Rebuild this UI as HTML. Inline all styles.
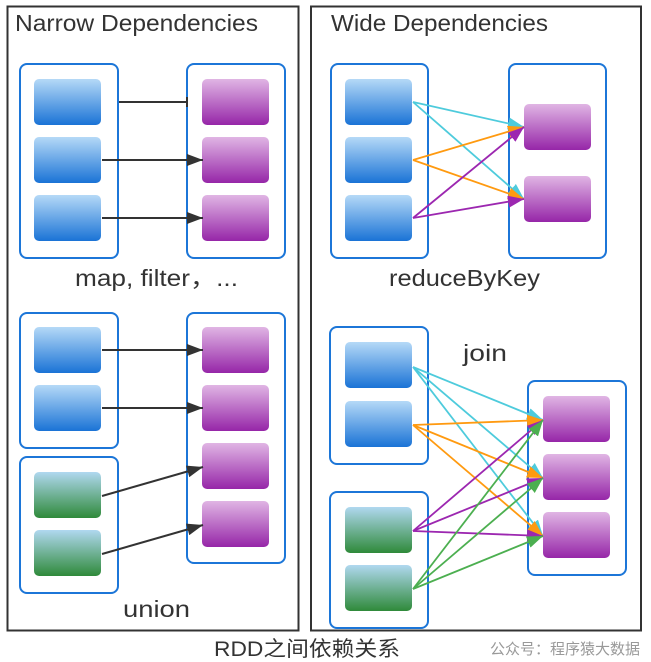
<!DOCTYPE html>
<html><head><meta charset="utf-8"><style>html,body{margin:0;padding:0;background:#fff}svg{display:block}text{font-family:"Liberation Sans","Noto Sans CJK SC",sans-serif;fill:#333}</style></head>
<body>
<svg width="651" height="662" viewBox="0 0 651 662" xmlns="http://www.w3.org/2000/svg">
<defs>
<linearGradient id="gb" x1="0" y1="0" x2="0" y2="1"><stop offset="0" stop-color="#b5d9f7"/><stop offset="1" stop-color="#1a73d6"/></linearGradient>
<linearGradient id="gp" x1="0" y1="0" x2="0" y2="1"><stop offset="0" stop-color="#e0b5e4"/><stop offset="1" stop-color="#9626a8"/></linearGradient>
<linearGradient id="gg" x1="0" y1="0" x2="0" y2="1"><stop offset="0" stop-color="#b0d8f0"/><stop offset="1" stop-color="#2f8a3a"/></linearGradient>
<marker id="ak" markerWidth="16" markerHeight="12" refX="16" refY="6" orient="auto" markerUnits="userSpaceOnUse"><path d="M0,0 L16,6 L0,12 z" fill="#333"/></marker>
<marker id="ac" markerWidth="16" markerHeight="12" refX="16" refY="6" orient="auto" markerUnits="userSpaceOnUse"><path d="M0,0 L16,6 L0,12 z" fill="#4ecbdc"/></marker>
<marker id="ao" markerWidth="16" markerHeight="12" refX="16" refY="6" orient="auto" markerUnits="userSpaceOnUse"><path d="M0,0 L16,6 L0,12 z" fill="#ff9a10"/></marker>
<marker id="ap" markerWidth="16" markerHeight="12" refX="16" refY="6" orient="auto" markerUnits="userSpaceOnUse"><path d="M0,0 L16,6 L0,12 z" fill="#9c27b0"/></marker>
<marker id="ag" markerWidth="16" markerHeight="12" refX="16" refY="6" orient="auto" markerUnits="userSpaceOnUse"><path d="M0,0 L16,6 L0,12 z" fill="#4caf50"/></marker>
</defs>
<rect x="7.5" y="6.5" width="291" height="624" fill="none" stroke="#333" stroke-width="2"/>
<rect x="311" y="6.5" width="330" height="624" fill="none" stroke="#333" stroke-width="2"/>
<text x="15" y="31" font-size="23" textLength="243" lengthAdjust="spacingAndGlyphs">Narrow Dependencies</text>
<text x="331" y="31" font-size="23" textLength="217" lengthAdjust="spacingAndGlyphs">Wide Dependencies</text>
<g fill="none" stroke="#1c76d8" stroke-width="2">
<rect x="20" y="64" width="98" height="194" rx="7"/>
<rect x="187" y="64" width="98" height="194" rx="7"/>
<rect x="20" y="313" width="98" height="135" rx="7"/>
<rect x="20" y="457" width="98" height="136" rx="7"/>
<rect x="187" y="313" width="98" height="250" rx="7"/>
<rect x="331" y="64" width="97" height="194" rx="7"/>
<rect x="509" y="64" width="97" height="194" rx="7"/>
<rect x="330" y="327" width="98" height="137" rx="7"/>
<rect x="330" y="492" width="98" height="136" rx="7"/>
<rect x="528" y="381" width="98" height="194" rx="7"/>
</g>
<g fill="url(#gb)">
<rect x="34" y="79" width="67" height="46" rx="5"/><rect x="34" y="137" width="67" height="46" rx="5"/><rect x="34" y="195" width="67" height="46" rx="5"/>
<rect x="34" y="327" width="67" height="46" rx="5"/><rect x="34" y="385" width="67" height="46" rx="5"/>
<rect x="345" y="79" width="67" height="46" rx="5"/><rect x="345" y="137" width="67" height="46" rx="5"/><rect x="345" y="195" width="67" height="46" rx="5"/>
<rect x="345" y="342" width="67" height="46" rx="5"/><rect x="345" y="401" width="67" height="46" rx="5"/>
</g>
<g fill="url(#gg)">
<rect x="34" y="472" width="67" height="46" rx="5"/><rect x="34" y="530" width="67" height="46" rx="5"/>
<rect x="345" y="507" width="67" height="46" rx="5"/><rect x="345" y="565" width="67" height="46" rx="5"/>
</g>
<g fill="url(#gp)">
<rect x="202" y="79" width="67" height="46" rx="5"/><rect x="202" y="137" width="67" height="46" rx="5"/><rect x="202" y="195" width="67" height="46" rx="5"/>
<rect x="202" y="327" width="67" height="46" rx="5"/><rect x="202" y="385" width="67" height="46" rx="5"/><rect x="202" y="443" width="67" height="46" rx="5"/><rect x="202" y="501" width="67" height="46" rx="5"/>
<rect x="524" y="104" width="67" height="46" rx="5"/><rect x="524" y="176" width="67" height="46" rx="5"/>
<rect x="543" y="396" width="67" height="46" rx="5"/><rect x="543" y="454" width="67" height="46" rx="5"/><rect x="543" y="512" width="67" height="46" rx="5"/>
</g>
<g stroke="#333" stroke-width="2" fill="none">
<line x1="119" y1="102" x2="187" y2="102"/><line x1="187" y1="97" x2="187" y2="107"/>
<line x1="102" y1="160" x2="203" y2="160" marker-end="url(#ak)"/>
<line x1="102" y1="218" x2="203" y2="218" marker-end="url(#ak)"/>
<line x1="102" y1="350" x2="203" y2="350" marker-end="url(#ak)"/>
<line x1="102" y1="408" x2="203" y2="408" marker-end="url(#ak)"/>
<line x1="102" y1="496" x2="203" y2="467" marker-end="url(#ak)"/>
<line x1="102" y1="554" x2="203" y2="525" marker-end="url(#ak)"/>
</g>
<g stroke-width="1.8" fill="none">
<line x1="413" y1="102" x2="524" y2="127" stroke="#4ecbdc" marker-end="url(#ac)"/>
<line x1="413" y1="102" x2="524" y2="199" stroke="#4ecbdc" marker-end="url(#ac)"/>
<line x1="413" y1="160" x2="524" y2="127" stroke="#ff9a10" marker-end="url(#ao)"/>
<line x1="413" y1="160" x2="524" y2="199" stroke="#ff9a10" marker-end="url(#ao)"/>
<line x1="413" y1="218" x2="524" y2="127" stroke="#9c27b0" marker-end="url(#ap)"/>
<line x1="413" y1="218" x2="524" y2="199" stroke="#9c27b0" marker-end="url(#ap)"/>

<line x1="413" y1="367" x2="543" y2="420" stroke="#4ecbdc" marker-end="url(#ac)"/>
<line x1="413" y1="367" x2="543" y2="478" stroke="#4ecbdc" marker-end="url(#ac)"/>
<line x1="413" y1="367" x2="543" y2="536" stroke="#4ecbdc" marker-end="url(#ac)"/>
<line x1="413" y1="425" x2="543" y2="420" stroke="#ff9a10" marker-end="url(#ao)"/>
<line x1="413" y1="425" x2="543" y2="478" stroke="#ff9a10" marker-end="url(#ao)"/>
<line x1="413" y1="425" x2="543" y2="536" stroke="#ff9a10" marker-end="url(#ao)"/>
<line x1="413" y1="531" x2="543" y2="420" stroke="#9c27b0" marker-end="url(#ap)"/>
<line x1="413" y1="531" x2="543" y2="478" stroke="#9c27b0" marker-end="url(#ap)"/>
<line x1="413" y1="531" x2="543" y2="536" stroke="#9c27b0" marker-end="url(#ap)"/>
<line x1="413" y1="589" x2="543" y2="420" stroke="#4caf50" marker-end="url(#ag)"/>
<line x1="413" y1="589" x2="543" y2="478" stroke="#4caf50" marker-end="url(#ag)"/>
<line x1="413" y1="589" x2="543" y2="536" stroke="#4caf50" marker-end="url(#ag)"/>
</g>
<text x="75" y="286" font-size="23" textLength="163" lengthAdjust="spacingAndGlyphs">map, filter，...</text>
<text x="123" y="617" font-size="23" textLength="67" lengthAdjust="spacingAndGlyphs">union</text>
<text x="389" y="286" font-size="23" textLength="151" lengthAdjust="spacingAndGlyphs">reduceByKey</text>
<text x="463" y="361" font-size="23" textLength="44" lengthAdjust="spacingAndGlyphs">join</text>
<text x="214" y="656" font-size="21" textLength="186" lengthAdjust="spacingAndGlyphs">RDD之间依赖关系</text>
<text x="640" y="654" font-size="15" text-anchor="end" style="fill:#999">公众号：程序猿大数据</text>
</svg>
</body></html>
